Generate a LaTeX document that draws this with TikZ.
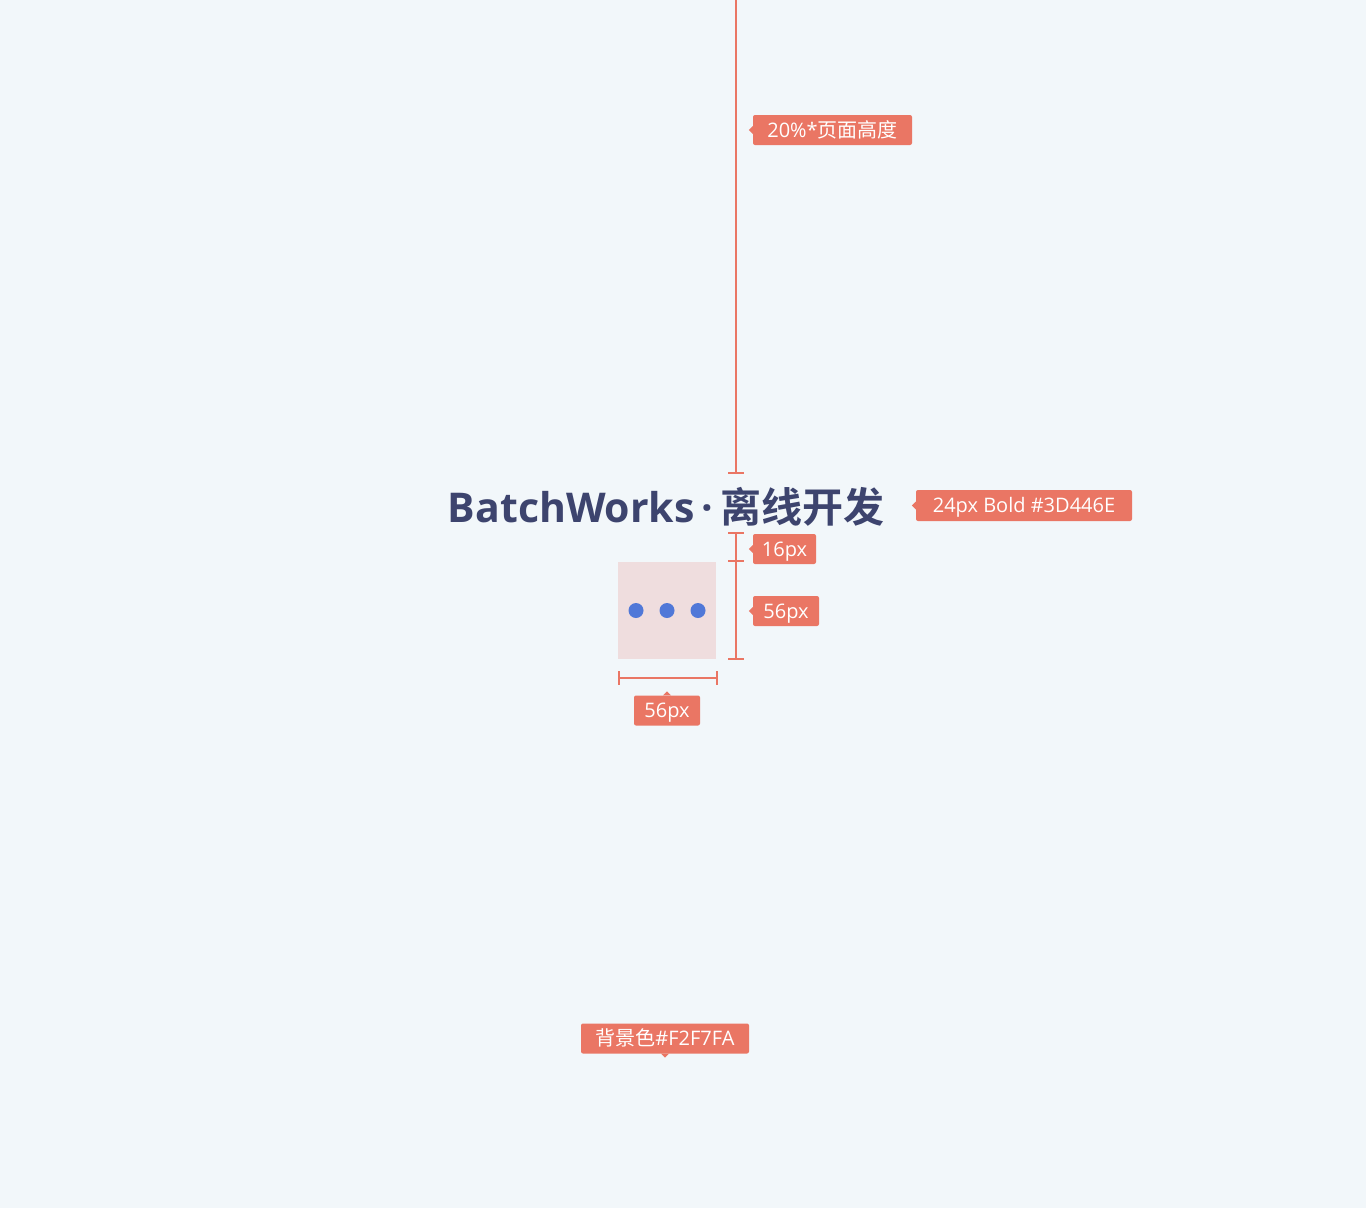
\documentclass[tikz,border=0pt]{standalone}
\usepackage{fontspec}
\setmainfont{Open Sans}
\newfontfamily\cjk{Noto Sans CJK SC}
\newfontfamily\cjkb{Noto Sans CJK SC Bold}
\definecolor{bg}{HTML}{F2F7FA}
\definecolor{mk}{HTML}{EA7664}
\definecolor{ttl}{HTML}{3D446E}
\definecolor{sq}{HTML}{EFDDDE}
\definecolor{dotc}{HTML}{5078D8}
\tikzset{
 lbl/.style={fill=mk,text=white,rounded corners=2pt,inner sep=0pt,text height=15.5pt,text depth=1pt,font=\fontsize{20}{20}\selectfont},
 dim/.style={draw=mk,line width=1.6pt},
}
\begin{document}
\begin{tikzpicture}[x=1pt,y=-1pt]
\fill[bg] (0,0) rectangle (1366,1208);
\useasboundingbox (0,0) rectangle (1366,1208);
% top dimension
\coordinate (t0) at (736,0); \coordinate (t1) at (736,473);
\draw[dim] (t0) -- (t1); \draw[dim] (728,473) -- (744,473);
\node[lbl,minimum width=159pt,minimum height=30pt] (l1) at (832.5,130) {20\%*{\cjk 页面高度}};
\fill[mk] (l1.west) ++(0,-4) -- ++(-4,4) -- ++(4,4) -- cycle;
% title
\node[text=ttl,font=\fontsize{41}{41}\selectfont,inner sep=0pt] (title) at (666,507) {{\bfseries BatchWorks\,·\,}{\cjkb 离线开发}};
\node[lbl,minimum width=216pt,minimum height=31pt] (l2) at (1024,505.5) {24px Bold \#3D446E};
\fill[mk] (l2.west) ++(0,-4) -- ++(-4,4) -- ++(4,4) -- cycle;
% 16 / 56
\draw[dim] (736,533) -- (736,659);
\draw[dim] (728,533) -- (744,533);
\draw[dim] (728,561) -- (744,561);
\draw[dim] (728,659) -- (744,659);
\node[lbl,minimum width=63pt,minimum height=30pt] (l3) at (784.5,549) {16px};
\fill[mk] (l3.west) ++(0,-4) -- ++(-4,4) -- ++(4,4) -- cycle;
\node[lbl,minimum width=66pt,minimum height=30pt] (l4) at (786,611) {56px};
\fill[mk] (l4.west) ++(0,-4) -- ++(-4,4) -- ++(4,4) -- cycle;
% square
\fill[sq] (618,562) rectangle (716,659);
\foreach \x in {636,667,698} \fill[dotc] (\x,610.5) circle (7.5);
% horizontal
\draw[dim] (619,678) -- (717,678);
\draw[dim] (619,671) -- (619,685);
\draw[dim] (717,671) -- (717,685);
\node[lbl,minimum width=66pt,minimum height=30pt] (l5) at (667,710.5) {56px};
\fill[mk] (l5.north) ++(-4,0) -- ++(4,-4) -- ++(4,4) -- cycle;
% bottom
\node[lbl,minimum width=168pt,minimum height=30pt] (l6) at (665,1038.5) {{\cjk 背景色}\#F2F7FA};
\fill[mk] (l6.south) ++(-4,0) -- ++(4,4) -- ++(4,-4) -- cycle;
\end{tikzpicture}
\end{document}
